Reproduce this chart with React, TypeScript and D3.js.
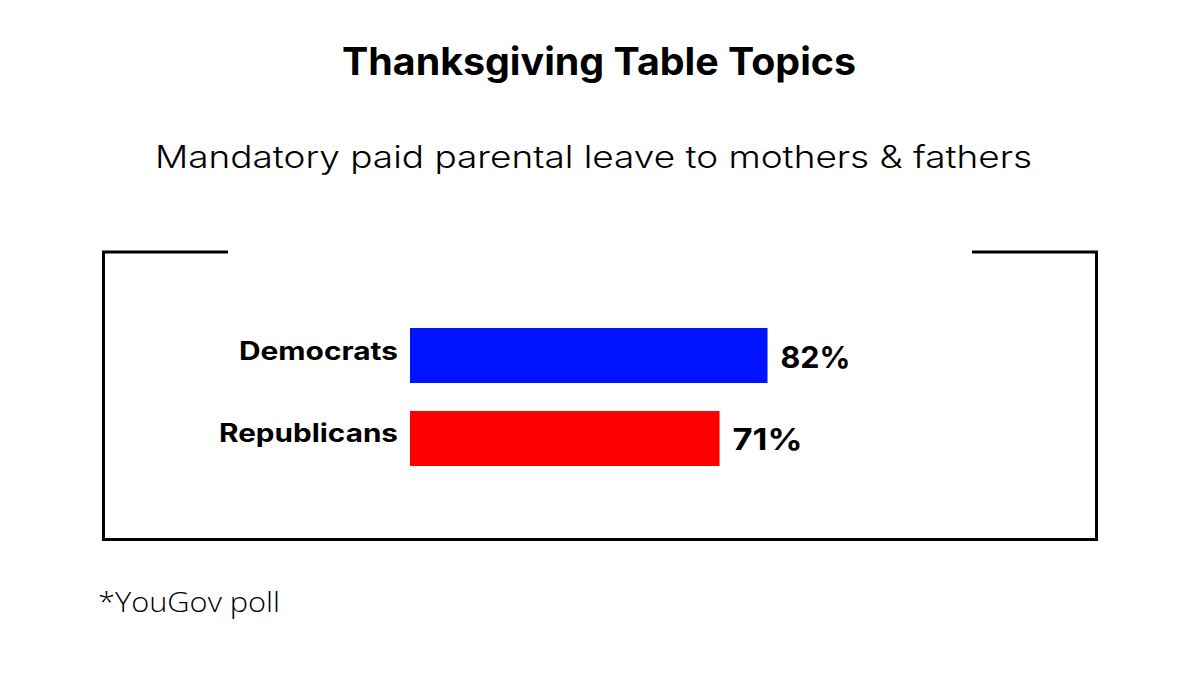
import * as d3 from "d3";

const parties = ["Democrats", "Republicans"];
const support = [82, 71];
const barColors = ["#0014ff", "#ff0000"];
const labelWidths = [159, 179];

const W = 1200;
const H = 675;

const App = () => {
  const x = d3.scaleLinear().domain([0, 100]).range([410, 846]);
  const y = d3
    .scaleBand()
    .domain(parties)
    .range([328, 466])
    .paddingInner(0.337)
    .paddingOuter(0);

  const font = "Inter, 'Open Sans', sans-serif";

  return (
    <svg
      width={W}
      height={H}
      viewBox={`0 0 ${W} ${H}`}
      style={{ position: "absolute", left: 0, top: 0, background: "#fff" }}
    >
      <rect width={W} height={H} fill="#fff" />
      <text
        x={342}
        y={75}
        fontFamily={font}
        fontWeight={700}
        fontSize={38}
        textLength={514}
        lengthAdjust="spacingAndGlyphs"
        fill="#000"
      >
        Thanksgiving Table Topics
      </text>
      <text
        x={155}
        y={168}
        fontFamily={font}
        fontWeight={300}
        fontSize={31}
        textLength={877}
        lengthAdjust="spacingAndGlyphs"
        fill="#000"
      >
        Mandatory paid parental leave to mothers &amp; fathers
      </text>

      {/* frame with a gap in the top edge */}
      <path
        d="M228,252 H103.5 V539.5 H1096.5 V252 H972"
        fill="none"
        stroke="#000"
        strokeWidth={3}
      />

      {parties.map((p, i) => {
        const by = y(p)!;
        const bh = y.bandwidth();
        return (
          <g key={p}>
            <rect
              x={x(0)}
              y={by}
              width={x(support[i]) - x(0)}
              height={bh}
              fill={barColors[i]}
            />
            <text
              x={x(0) - 12 - labelWidths[i]}
              y={by + bh / 2 + 4}
              fontFamily={font}
              fontWeight={700}
              fontSize={25}
              textLength={labelWidths[i]}
              lengthAdjust="spacingAndGlyphs"
              fill="#000"
            >
              {p}
            </text>
            <text
              x={x(support[i]) + 13}
              y={by + bh / 2 + 12}
              fontFamily={font}
              fontWeight={700}
              fontSize={30}
              textLength={70}
              lengthAdjust="spacingAndGlyphs"
              fill="#000"
            >
              {support[i]}%
            </text>
          </g>
        );
      })}

      <text
        x={98}
        y={612}
        fontFamily="'Open Sans', sans-serif"
        fontWeight={300}
        fontSize={27}
        textLength={182}
        lengthAdjust="spacingAndGlyphs"
        fill="#000"
      >
        *YouGov poll
      </text>
    </svg>
  );
};

export default App;
